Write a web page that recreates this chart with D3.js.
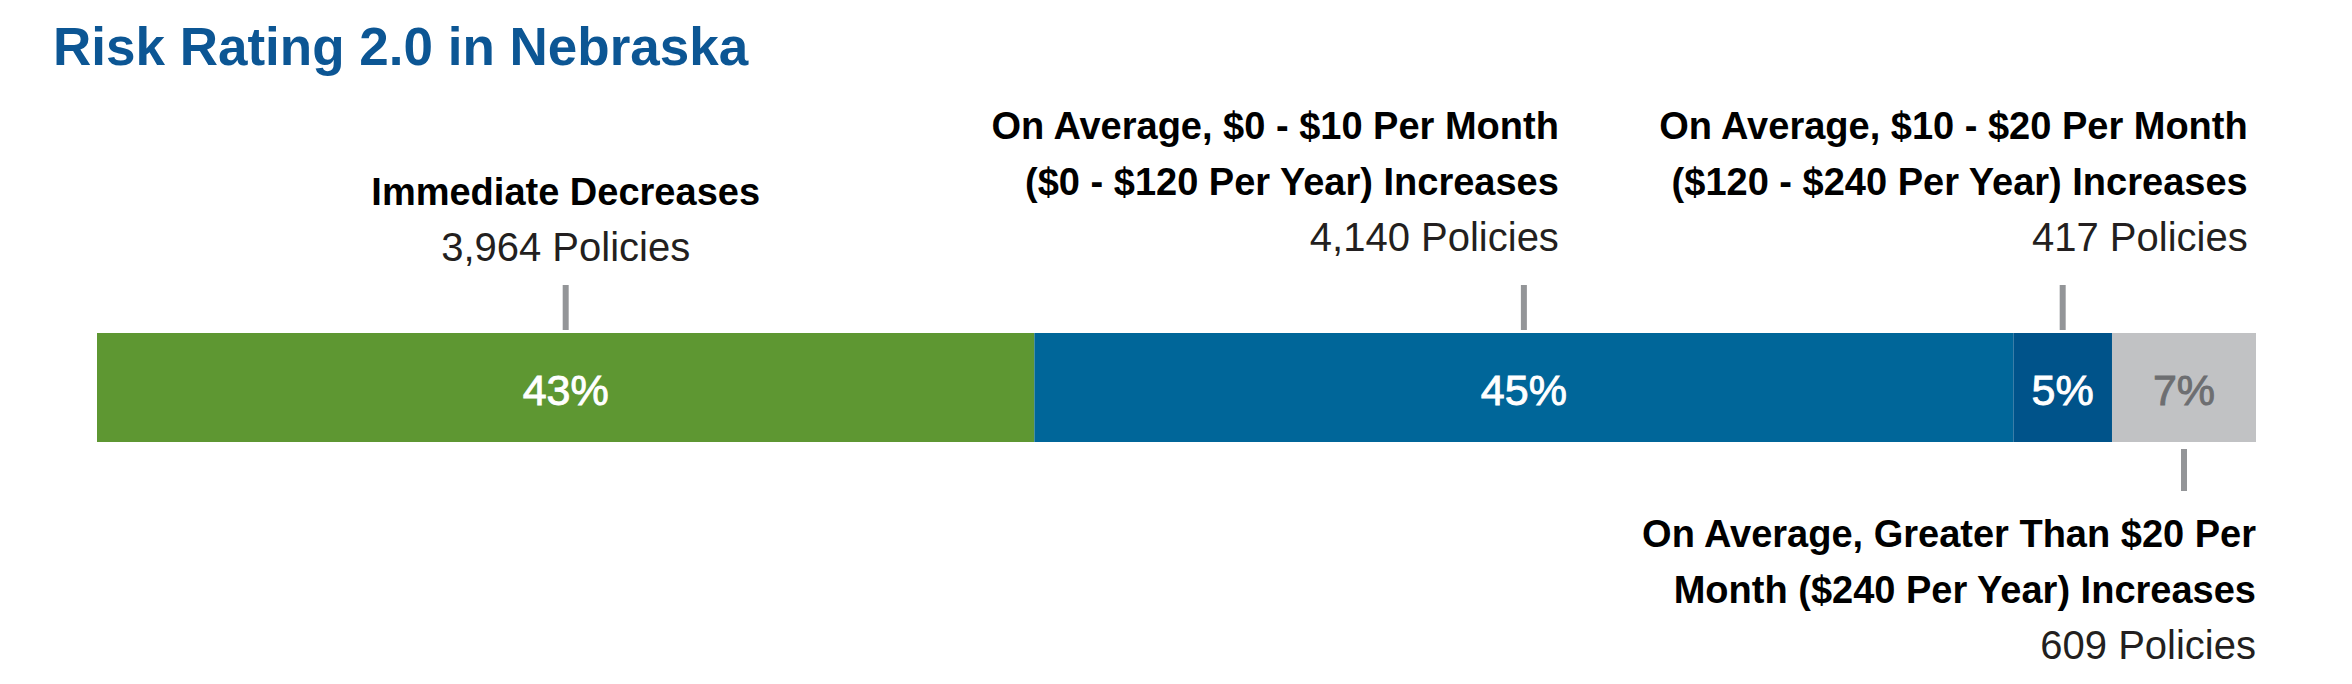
<!DOCTYPE html>
<html lang="en">
<head>
  <meta charset="UTF-8">
  <title>Risk Rating 2.0 in Nebraska</title>
  <style>
    body { margin: 0; background: #fff; }
    text { font-family: "Liberation Sans", Arial, sans-serif; }
  </style>
</head>
<body>
  <script src="https://d3js.org/d3.v7.min.js"></script>
  <script>
    const title = 'Risk Rating 2.0 in Nebraska';
    const headings = [
      ['Immediate Decreases'],
      ['On Average, $0 - $10 Per Month', '($0 - $120 Per Year) Increases'],
      ['On Average, $10 - $20 Per Month', '($120 - $240 Per Year) Increases'],
      ['On Average, Greater Than $20 Per', 'Month ($240 Per Year) Increases']
    ];
    const policies = [3964, 4140, 417, 609];
    const percents = [43, 45, 5, 7];

    const [ width, height ] = [2352, 684];
    const bar = { x0: 97, x1: 2256, top: 333, bottom: 442 };

    // colours of the segments and their % labels
    const fills = ['#5e9732', '#006699', '#00538a', '#c1c2c4'];
    const pctColors = ['#fff', '#fff', '#fff', '#6d6e71'];

    // where each label sits: anchor, shift from the segment centre, baseline of the last line, above/below
    const layout = [
      { anchor: 'middle', dx: 0, last: 261, below: false },
      { anchor: 'end', dx: 35, last: 251, below: false },
      { anchor: 'end', dx: 185, last: 251, below: false },
      { anchor: 'end', dx: 72, first: 547, below: true }
    ];
    const lineGap = 56;

    let svg = d3.select('body').append('svg').attr('width', width).attr('height', height);

    svg.append('text')
      .attr('x', 53).attr('y', 65)
      .attr('font-size', 53).attr('font-weight', 'bold')
      .attr('fill', '#0c5694')
      .text(title);

    // stacked positions
    const starts = d3.cumsum([0, ...policies]).slice(0, policies.length);
    const total = d3.sum(policies);
    let xScale = d3.scaleLinear().domain([0, total]).range([bar.x0, bar.x1]);

    const segs = policies.map((p, i) => ({ i, p, s: starts[i], e: starts[i] + p }));

    svg.append('g').selectAll('rect')
      .data(segs).enter().append('rect')
      .attr('x', d => xScale(d.s))
      .attr('width', d => xScale(d.e) - xScale(d.s))
      .attr('y', bar.top)
      .attr('height', bar.bottom - bar.top)
      .attr('fill', d => fills[d.i]);

    const mid = d => (xScale(d.s) + xScale(d.e)) / 2;

    svg.append('g').selectAll('text')
      .data(segs).enter().append('text')
      .attr('x', mid)
      .attr('y', 405)
      .attr('text-anchor', 'middle')
      .attr('font-size', 43)
      .attr('fill', d => pctColors[d.i])
      .attr('stroke', d => pctColors[d.i])
      .attr('stroke-width', 0.9)
      .text(d => percents[d.i] + '%');

    // leader ticks
    svg.append('g').selectAll('line')
      .data(segs).enter().append('line')
      .attr('x1', mid).attr('x2', mid)
      .attr('y1', d => layout[d.i].below ? 449 : 285)
      .attr('y2', d => layout[d.i].below ? 491 : 330)
      .attr('stroke', '#939598')
      .attr('stroke-width', 6);

    // labels
    const fmt = d3.format(',');
    segs.forEach(d => {
      const L = layout[d.i];
      const lines = headings[d.i].map(t => ({ t, bold: true }))
        .concat([{ t: fmt(d.p) + ' Policies', bold: false }]);
      const y0 = L.below ? L.first : L.last - (lines.length - 1) * lineGap;
      svg.append('g').selectAll('text')
        .data(lines).enter().append('text')
        .attr('x', mid(d) + L.dx)
        .attr('y', (l, j) => y0 + j * lineGap)
        .attr('text-anchor', L.anchor)
        .attr('font-size', l => l.bold ? 38 : 40)
        .attr('font-weight', l => l.bold ? 'bold' : 'normal')
        .attr('fill', l => l.bold ? '#000' : '#231f20')
        .text(l => l.t);
    });
  </script>
</body>
</html>
